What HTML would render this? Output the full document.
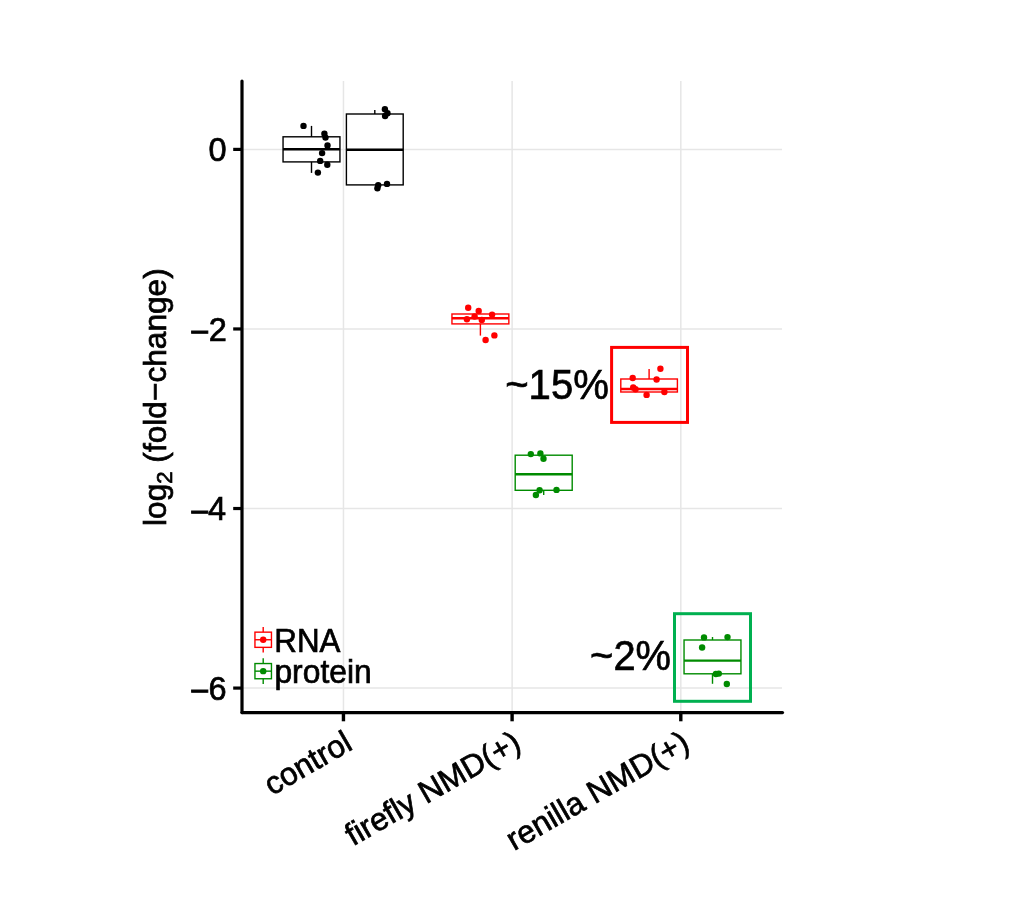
<!DOCTYPE html>
<html><head><meta charset="utf-8"><title>plot</title>
<style>html,body{margin:0;padding:0;background:#fff;}svg{display:block;will-change:transform;}text{font-kerning:none;stroke:#000;stroke-width:0.7px;}</style>
</head><body><svg width="1018" height="920" viewBox="0 0 1018 920"><rect width="1018" height="920" fill="#fff"/><line x1="242" y1="149.40" x2="782" y2="149.40" stroke="#E6E6E6" stroke-width="1.5"/><line x1="242" y1="328.96" x2="782" y2="328.96" stroke="#E6E6E6" stroke-width="1.5"/><line x1="242" y1="508.52" x2="782" y2="508.52" stroke="#E6E6E6" stroke-width="1.5"/><line x1="242" y1="688.08" x2="782" y2="688.08" stroke="#E6E6E6" stroke-width="1.5"/><line x1="343.45" y1="81" x2="343.45" y2="712.6" stroke="#E6E6E6" stroke-width="1.5"/><line x1="512.1" y1="81" x2="512.1" y2="712.6" stroke="#E6E6E6" stroke-width="1.5"/><line x1="680.8" y1="81" x2="680.8" y2="712.6" stroke="#E6E6E6" stroke-width="1.5"/><line x1="311.5" y1="125.9" x2="311.5" y2="136.8" stroke="#000000" stroke-width="1.4"/><line x1="311.5" y1="161.9" x2="311.5" y2="172.9" stroke="#000000" stroke-width="1.4"/><rect x="283.05" y="136.8" width="56.90" height="25.10" fill="none" stroke="#000000" stroke-width="1.4"/><line x1="283.05" y1="149.3" x2="339.95" y2="149.3" stroke="#000000" stroke-width="2.45"/><circle cx="303.5" cy="125.9" r="3.2" fill="#000000"/><circle cx="324.4" cy="133.7" r="3.2" fill="#000000"/><circle cx="325.5" cy="137.6" r="3.2" fill="#000000"/><circle cx="327.5" cy="145.5" r="3.2" fill="#000000"/><circle cx="322.1" cy="153.1" r="3.2" fill="#000000"/><circle cx="320.2" cy="160.9" r="3.2" fill="#000000"/><circle cx="327.3" cy="164.8" r="3.2" fill="#000000"/><circle cx="317.9" cy="172.6" r="3.2" fill="#000000"/><line x1="374.8" y1="110.0" x2="374.8" y2="114.0" stroke="#000000" stroke-width="1.4"/><rect x="346.40" y="114.0" width="56.80" height="70.90" fill="none" stroke="#000000" stroke-width="1.4"/><line x1="346.40" y1="149.8" x2="403.20" y2="149.8" stroke="#000000" stroke-width="2.45"/><circle cx="384.9" cy="109.3" r="3.2" fill="#000000"/><circle cx="387.5" cy="113.2" r="3.2" fill="#000000"/><circle cx="385.1" cy="116.0" r="3.2" fill="#000000"/><circle cx="387" cy="183.9" r="3.2" fill="#000000"/><circle cx="378.2" cy="185.2" r="3.2" fill="#000000"/><circle cx="377.4" cy="188.2" r="3.2" fill="#000000"/><line x1="480.4" y1="323.9" x2="480.4" y2="335.6" stroke="#FF0000" stroke-width="1.4"/><rect x="451.95" y="314.0" width="56.90" height="9.90" fill="none" stroke="#FF0000" stroke-width="1.4"/><line x1="451.95" y1="318.2" x2="508.85" y2="318.2" stroke="#FF0000" stroke-width="2.45"/><circle cx="468.2" cy="307.7" r="3.2" fill="#FF0000"/><circle cx="478.7" cy="311" r="3.2" fill="#FF0000"/><circle cx="492.1" cy="314.6" r="3.2" fill="#FF0000"/><circle cx="474.6" cy="316.5" r="3.2" fill="#FF0000"/><circle cx="466.9" cy="319.2" r="3.2" fill="#FF0000"/><circle cx="481.8" cy="319.9" r="3.2" fill="#FF0000"/><circle cx="494.4" cy="335.4" r="3.2" fill="#FF0000"/><circle cx="485.6" cy="340" r="3.2" fill="#FF0000"/><line x1="543.7" y1="490.3" x2="543.7" y2="494.9" stroke="#008B00" stroke-width="1.4"/><rect x="515.20" y="455.2" width="57.00" height="35.10" fill="none" stroke="#008B00" stroke-width="1.4"/><line x1="515.20" y1="474.3" x2="572.20" y2="474.3" stroke="#008B00" stroke-width="2.45"/><circle cx="530.8" cy="454.1" r="3.2" fill="#008B00"/><circle cx="540.4" cy="453.4" r="3.2" fill="#008B00"/><circle cx="543.5" cy="458.7" r="3.2" fill="#008B00"/><circle cx="539.6" cy="490.3" r="3.2" fill="#008B00"/><circle cx="556.5" cy="489.9" r="3.2" fill="#008B00"/><circle cx="535.9" cy="495" r="3.2" fill="#008B00"/><line x1="649.1" y1="368.9" x2="649.1" y2="379.0" stroke="#FF0000" stroke-width="1.4"/><rect x="620.80" y="379.0" width="56.60" height="13.00" fill="none" stroke="#FF0000" stroke-width="1.4"/><line x1="620.80" y1="388.9" x2="677.40" y2="388.9" stroke="#FF0000" stroke-width="2.45"/><circle cx="632.7" cy="378" r="3.2" fill="#FF0000"/><circle cx="656.6" cy="379.5" r="3.2" fill="#FF0000"/><circle cx="660.4" cy="368.8" r="3.2" fill="#FF0000"/><circle cx="633.2" cy="387.5" r="3.2" fill="#FF0000"/><circle cx="635.5" cy="389.2" r="3.2" fill="#FF0000"/><circle cx="646.6" cy="394.9" r="3.2" fill="#FF0000"/><circle cx="664.4" cy="392" r="3.2" fill="#FF0000"/><line x1="712.5" y1="637.0" x2="712.5" y2="640.0" stroke="#008B00" stroke-width="1.4"/><line x1="712.5" y1="673.8" x2="712.5" y2="683.8" stroke="#008B00" stroke-width="1.4"/><rect x="684.05" y="640.0" width="56.90" height="33.80" fill="none" stroke="#008B00" stroke-width="1.4"/><line x1="684.05" y1="660.6" x2="740.95" y2="660.6" stroke="#008B00" stroke-width="2.45"/><circle cx="704" cy="637.4" r="3.2" fill="#008B00"/><circle cx="727.5" cy="637.1" r="3.2" fill="#008B00"/><circle cx="702.1" cy="647.5" r="3.2" fill="#008B00"/><circle cx="715.9" cy="674" r="3.2" fill="#008B00"/><circle cx="718.8" cy="673.6" r="3.2" fill="#008B00"/><circle cx="726.8" cy="684" r="3.2" fill="#008B00"/><rect x="611.6" y="347.4" width="75.9" height="75" fill="none" stroke="#FF0000" stroke-width="3"/><rect x="674.5" y="613.7" width="76" height="87.6" fill="none" stroke="#00B050" stroke-width="3"/><line x1="242" y1="81" x2="242" y2="712.6" stroke="#000" stroke-width="3.2" stroke-linecap="round"/><line x1="242" y1="712.6" x2="782.5" y2="712.6" stroke="#000" stroke-width="3.2" stroke-linecap="round"/><line x1="233.2" y1="149.40" x2="242" y2="149.40" stroke="#000" stroke-width="3.2"/><line x1="233.2" y1="328.96" x2="242" y2="328.96" stroke="#000" stroke-width="3.2"/><line x1="233.2" y1="508.52" x2="242" y2="508.52" stroke="#000" stroke-width="3.2"/><line x1="233.2" y1="688.08" x2="242" y2="688.08" stroke="#000" stroke-width="3.2"/><line x1="343.45" y1="712.6" x2="343.45" y2="721.3" stroke="#000" stroke-width="3.4"/><line x1="512.1" y1="712.6" x2="512.1" y2="721.3" stroke="#000" stroke-width="3.4"/><line x1="680.8" y1="712.6" x2="680.8" y2="721.3" stroke="#000" stroke-width="3.4"/><text x="208.39" y="161.20" font-family="'Liberation Sans', Arial, Helvetica, sans-serif" font-size="32.5">0</text><text x="208.76" y="340.76" font-family="'Liberation Sans', Arial, Helvetica, sans-serif" font-size="32.5">2</text><text x="189.66" y="342.96" font-family="'Liberation Sans', Arial, Helvetica, sans-serif" font-size="32.5" textLength="19.47" lengthAdjust="spacingAndGlyphs" style="stroke-width:1.0px">−</text><text x="208.08" y="520.32" font-family="'Liberation Sans', Arial, Helvetica, sans-serif" font-size="32.5">4</text><text x="189.66" y="522.52" font-family="'Liberation Sans', Arial, Helvetica, sans-serif" font-size="32.5" textLength="19.47" lengthAdjust="spacingAndGlyphs" style="stroke-width:1.0px">−</text><text x="208.55" y="699.88" font-family="'Liberation Sans', Arial, Helvetica, sans-serif" font-size="32.5">6</text><text x="189.66" y="702.08" font-family="'Liberation Sans', Arial, Helvetica, sans-serif" font-size="32.5" textLength="19.47" lengthAdjust="spacingAndGlyphs" style="stroke-width:1.0px">−</text><text transform="translate(354.15,748.5) rotate(-30)" font-family="'Liberation Sans', Arial, Helvetica, sans-serif" font-size="31.65" text-anchor="end">control</text><text transform="translate(522.8000000000001,748.5) rotate(-30)" font-family="'Liberation Sans', Arial, Helvetica, sans-serif" font-size="31.65" text-anchor="end">firefly NMD(+)</text><text transform="translate(691.5,748.5) rotate(-30)" font-family="'Liberation Sans', Arial, Helvetica, sans-serif" font-size="31.65" text-anchor="end">renilla NMD(+)</text><text transform="translate(166,526) rotate(-90)" font-family="'Liberation Sans', Arial, Helvetica, sans-serif" font-size="31.65">log<tspan font-size="22.15" dy="6">2</tspan><tspan dy="-6"> (fold−change)</tspan></text><text x="505.20" y="398.90" font-family="'Liberation Sans', Arial, Helvetica, sans-serif" font-size="42.4" textLength="103.73" lengthAdjust="spacingAndGlyphs">~15%</text><text x="590.11" y="670.40" font-family="'Liberation Sans', Arial, Helvetica, sans-serif" font-size="43.2" textLength="80.91" lengthAdjust="spacingAndGlyphs">~2%</text><line x1="263.2" y1="626.95" x2="263.2" y2="652.55" stroke="#FF0000" stroke-width="1.4"/><rect x="254.95" y="632.15" width="16.5" height="15.2" fill="#fff" stroke="#FF0000" stroke-width="1.4"/><line x1="254.95" y1="639.75" x2="271.45" y2="639.75" stroke="#FF0000" stroke-width="1.4"/><circle cx="263.2" cy="639.75" r="3.2" fill="#FF0000"/><line x1="263.2" y1="658.35" x2="263.2" y2="683.9499999999999" stroke="#008B00" stroke-width="1.4"/><rect x="254.95" y="663.55" width="16.5" height="15.2" fill="#fff" stroke="#008B00" stroke-width="1.4"/><line x1="254.95" y1="671.15" x2="271.45" y2="671.15" stroke="#008B00" stroke-width="1.4"/><circle cx="263.2" cy="671.15" r="3.2" fill="#008B00"/><text x="274.33" y="651.90" font-family="'Liberation Sans', Arial, Helvetica, sans-serif" font-size="33.5" textLength="66.13" lengthAdjust="spacingAndGlyphs">RNA</text><text x="274.45" y="682.70" font-family="'Liberation Sans', Arial, Helvetica, sans-serif" font-size="32.5" textLength="97.21" lengthAdjust="spacingAndGlyphs">protein</text></svg></body></html>
